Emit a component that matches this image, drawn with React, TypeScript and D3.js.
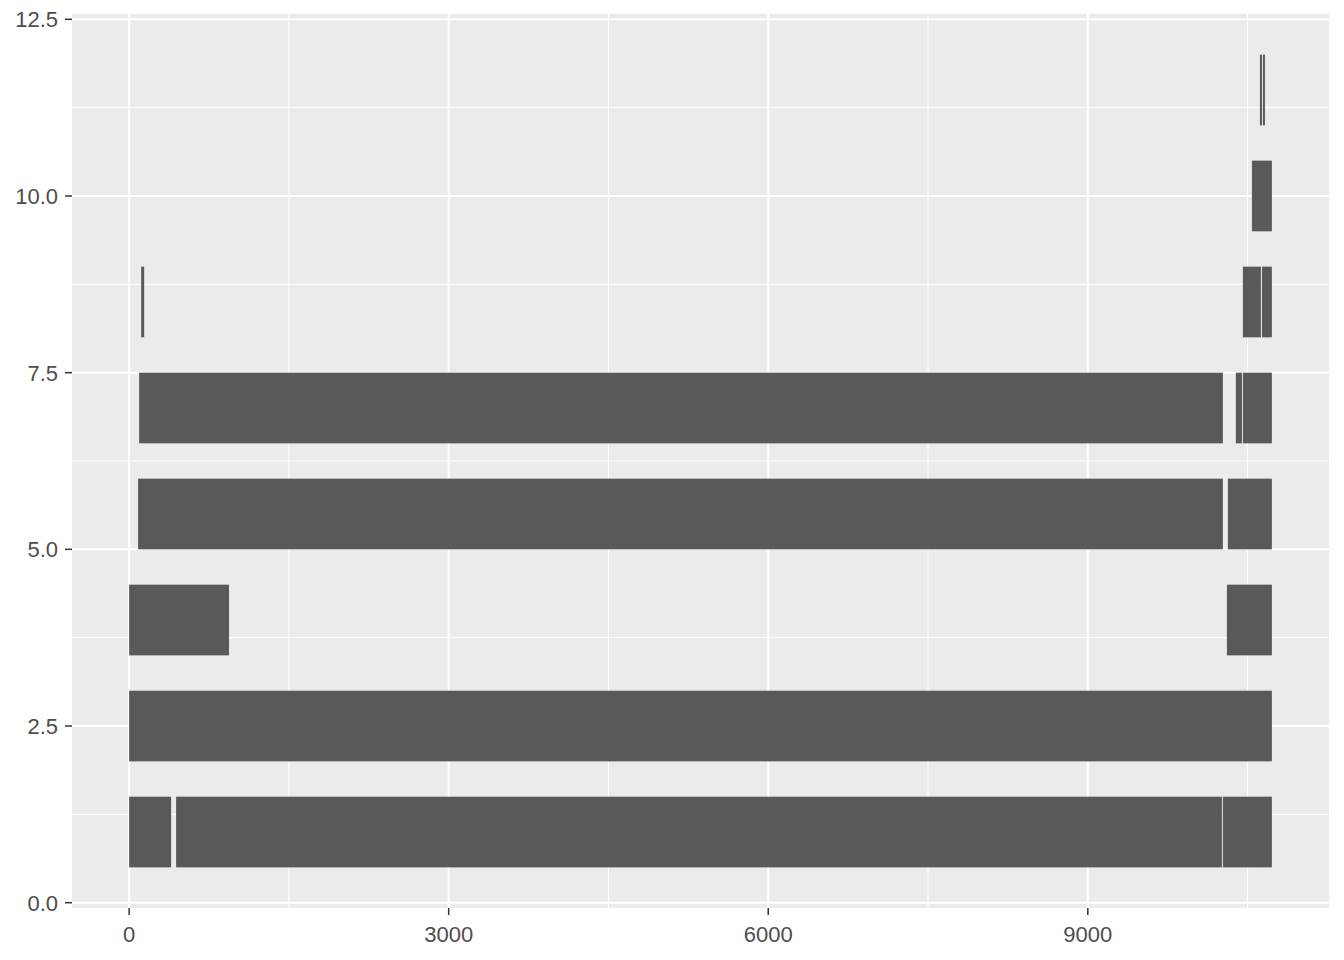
import React from "react";
import * as d3 from "d3";

// Row centres (y) of each band, band half-height 0.5
const rowCenters: number[] = [1, 2.5, 4, 5.5, 7, 8.5, 10, 11.5];

// Segments: row index, start, end (x)
const segRow: number[] = [0, 0, 0, 1, 2, 2, 3, 3, 4, 4, 4, 5, 5, 5, 6, 7, 7];
const segStart: number[] = [0, 441, 10268, 0, 0, 10306, 84, 10315, 94, 10390, 10456, 113, 10456, 10635, 10541, 10616, 10644];
const segEnd: number[] = [394, 10259, 10728, 10728, 938, 10728, 10268, 10728, 10268, 10447, 10728, 141, 10625, 10728, 10728, 10635, 10663];

const xTicks: number[] = [0, 3000, 6000, 9000];
const xMinor: number[] = [1500, 4500, 7500, 10500];
const yTicks: number[] = [0, 2.5, 5, 7.5, 10, 12.5];
const yMinor: number[] = [1.25, 3.75, 6.25, 8.75, 11.25];

const W = 1344;
const H = 960;
const panel = { left: 72, right: 1329, top: 14, bottom: 908 };

export default function App() {
  const xMin = 0;
  const xMax = d3.max(segEnd) as number;
  const xPad = (xMax - xMin) * 0.05;
  const yLo = d3.min(rowCenters)! - 0.5;
  const yHi = d3.max(rowCenters)! + 0.5;
  const yPad = (yHi - yLo) * 0.05;

  const x = d3.scaleLinear().domain([xMin - xPad, xMax + xPad]).range([panel.left, panel.right]);
  const y = d3.scaleLinear().domain([yLo - yPad, yHi + yPad]).range([panel.bottom, panel.top]);

  const font = "'Liberation Sans', Arial, sans-serif";
  const textColor = "#4D4D4D";

  return (
    <svg width={W} height={H} style={{ display: "block", position: "absolute", left: 0, top: 0 }}>
      <rect x={0} y={0} width={W} height={H} fill="#FFFFFF" />
      <rect x={panel.left} y={panel.top} width={panel.right - panel.left} height={panel.bottom - panel.top} fill="#EBEBEB" />
      {xMinor.map((v) => (
        <line key={"xm" + v} x1={x(v)} x2={x(v)} y1={panel.top} y2={panel.bottom} stroke="#FFFFFF" strokeWidth={1} />
      ))}
      {yMinor.map((v) => (
        <line key={"ym" + v} x1={panel.left} x2={panel.right} y1={y(v)} y2={y(v)} stroke="#FFFFFF" strokeWidth={1} />
      ))}
      {xTicks.map((v) => (
        <line key={"xM" + v} x1={x(v)} x2={x(v)} y1={panel.top} y2={panel.bottom} stroke="#FFFFFF" strokeWidth={2} />
      ))}
      {yTicks.map((v) => (
        <line key={"yM" + v} x1={panel.left} x2={panel.right} y1={y(v)} y2={y(v)} stroke="#FFFFFF" strokeWidth={2} />
      ))}
      {segRow.map((r, i) => {
        const c = rowCenters[r];
        const x0 = x(segStart[i]);
        const x1 = x(segEnd[i]);
        const y0 = y(c + 0.5);
        const y1 = y(c - 0.5);
        return <rect key={"s" + i} x={x0} y={y0} width={x1 - x0} height={y1 - y0} fill="#595959" />;
      })}
      {xTicks.map((v) => (
        <g key={"xt" + v}>
          <line x1={x(v)} x2={x(v)} y1={panel.bottom} y2={panel.bottom + 7} stroke="#333333" strokeWidth={1.5} />
          <text x={x(v)} y={panel.bottom + 34} textAnchor="middle" fontFamily={font} fontSize={22} fill={textColor}>
            {d3.format("d")(v)}
          </text>
        </g>
      ))}
      {yTicks.map((v) => (
        <g key={"yt" + v}>
          <line x1={panel.left - 7} x2={panel.left} y1={y(v)} y2={y(v)} stroke="#333333" strokeWidth={1.5} />
          <text x={panel.left - 14} y={y(v)} dy="0.36em" textAnchor="end" fontFamily={font} fontSize={22} fill={textColor}>
            {d3.format(".1f")(v)}
          </text>
        </g>
      ))}
    </svg>
  );
}
